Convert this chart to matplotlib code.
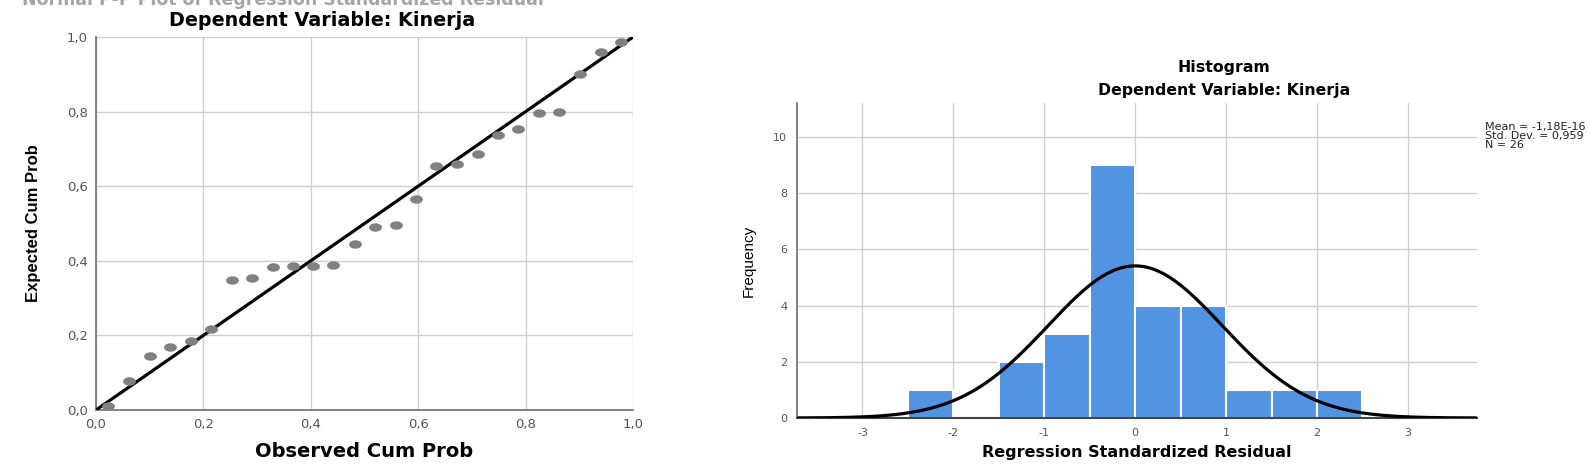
import matplotlib
matplotlib.use("Agg")
import matplotlib.pyplot as plt
import numpy as np

plt.rcParams['axes.unicode_minus'] = False

# P-P plot values (observed vs expected cumulative probability)
observed = [0.023, 0.062, 0.100, 0.138, 0.176, 0.214, 0.253, 0.291, 0.329,
            0.366, 0.405, 0.442, 0.482, 0.520, 0.558, 0.595, 0.633, 0.672,
            0.711, 0.749, 0.786, 0.825, 0.863, 0.901, 0.940, 0.977]
expected = [0.012, 0.077, 0.145, 0.170, 0.184, 0.218, 0.348, 0.353, 0.384,
            0.385, 0.387, 0.388, 0.446, 0.491, 0.496, 0.565, 0.654, 0.660,
            0.686, 0.737, 0.753, 0.796, 0.800, 0.902, 0.960, 0.986]

# histogram of standardized residuals
bin_edges = [-2.5, -2.0, -1.5, -1.0, -0.5, 0.0, 0.5, 1.0, 1.5, 2.0, 2.5]
counts = [1, 0, 2, 3, 9, 4, 4, 1, 1, 1]
res_mean = -1.18e-16
res_sd = 0.959
res_n = 26

pp_ticks = [0.0, 0.2, 0.4, 0.6, 0.8, 1.0]
pp_labels = ['0,0', '0,2', '0,4', '0,6', '0,8', '1,0']
hist_xticks = [-3, -2, -1, 0, 1, 2, 3]
hist_yticks = [0, 2, 4, 6, 8, 10]

GRID = '#cfcfcf'
SPINE = '#7a7a7a'
TICK = '#555555'

fig = plt.figure(figsize=(15.88, 4.76), dpi=100)

# chart title, cut off by the top edge in the source image
fig.text(22 / 1588, 1 - 5 / 476, 'Normal P-P Plot of Regression Standardized Residual',
         fontsize=12.5, fontweight='bold', color='#a5a5a5', va='baseline', ha='left')

# ---- left: P-P plot ----
ax1 = fig.add_axes([96 / 1588, 66 / 476, 537 / 1588, 373 / 476])
ax1.set_xlim(0, 1)
ax1.set_ylim(0, 1)
ax1.plot([0, 1], [0, 1], color='black', lw=2.3, zorder=3)
t = np.linspace(0, 2 * np.pi, 40)
ell = list(zip(np.cos(t), 0.66 * np.sin(t)))
ax1.scatter(observed, expected, marker=ell, s=85, color='#808080', zorder=4, linewidths=0)
ax1.set_xticks(pp_ticks)
ax1.set_yticks(pp_ticks)
ax1.set_xticklabels(pp_labels)
ax1.set_yticklabels(pp_labels)
ax1.grid(True, color=GRID, lw=1)
ax1.set_axisbelow(True)
ax1.tick_params(length=0, labelsize=9.5, labelcolor=TICK, pad=6)
for s in ['top', 'right']:
    ax1.spines[s].set_visible(False)
for s in ['left', 'bottom']:
    ax1.spines[s].set_color(SPINE)
    ax1.spines[s].set_linewidth(1.3)
ax1.set_xlabel('Observed Cum Prob', fontsize=14, fontweight='bold', labelpad=8)
ax1.set_ylabel('Expected Cum Prob', fontsize=12, fontweight='bold', family='Liberation Sans')
ax1.yaxis.set_label_coords(-0.102, 0.5)
fig.text(322 / 1588, 1 - 21 / 476, 'Dependent Variable: Kinerja', fontsize=13.8,
         fontweight='bold', ha='center', va='center')

# ---- right: histogram ----
ax2 = fig.add_axes([797 / 1588, 58 / 476, 680 / 1588, 315 / 476])
widths = np.diff(bin_edges)
ax2.bar(bin_edges[:-1], counts, width=widths, align='edge', color='#5293e2',
        edgecolor='white', linewidth=1.5, zorder=2)
xs = np.linspace(-3.72, 3.76, 400)
ys = res_n * 0.5 * np.exp(-0.5 * ((xs - res_mean) / res_sd) ** 2) / (res_sd * np.sqrt(2 * np.pi))
ax2.plot(xs, ys, color='black', lw=2.3, zorder=3)
ax2.set_xlim(-3.72, 3.76)
ax2.set_ylim(0, 11.2)
ax2.set_xticks(hist_xticks)
ax2.set_yticks(hist_yticks)
ax2.grid(True, color=GRID, lw=1)
ax2.set_axisbelow(True)
ax2.tick_params(length=0, labelsize=8, labelcolor=TICK, pad=7)
for s in ['top', 'right']:
    ax2.spines[s].set_visible(False)
ax2.spines['left'].set_color(SPINE)
ax2.spines['left'].set_linewidth(1.3)
ax2.spines['bottom'].set_color('#444444')
ax2.spines['bottom'].set_linewidth(1.5)
ax2.set_xlabel('Regression Standardized Residual', fontsize=11.5, fontweight='bold', labelpad=5)
ax2.set_ylabel('Frequency', fontsize=11, family='Liberation Sans')
ax2.yaxis.set_label_coords(-0.061, 0.5)
fig.text(1224 / 1588, 1 - 68 / 476, 'Histogram', fontsize=11.3, fontweight='bold',
         ha='center', va='center')
fig.text(1224 / 1588, 1 - 90 / 476, 'Dependent Variable: Kinerja', fontsize=11.3,
         fontweight='bold', ha='center', va='center')
fig.text(1485 / 1588, 1 - 122 / 476,
         'Mean = -1,18E-16\nStd. Dev. = 0,959\nN = 26', fontsize=8,
         ha='left', va='top', linespacing=0.9, color='#222222')

fig.savefig('out.png', dpi=100)
